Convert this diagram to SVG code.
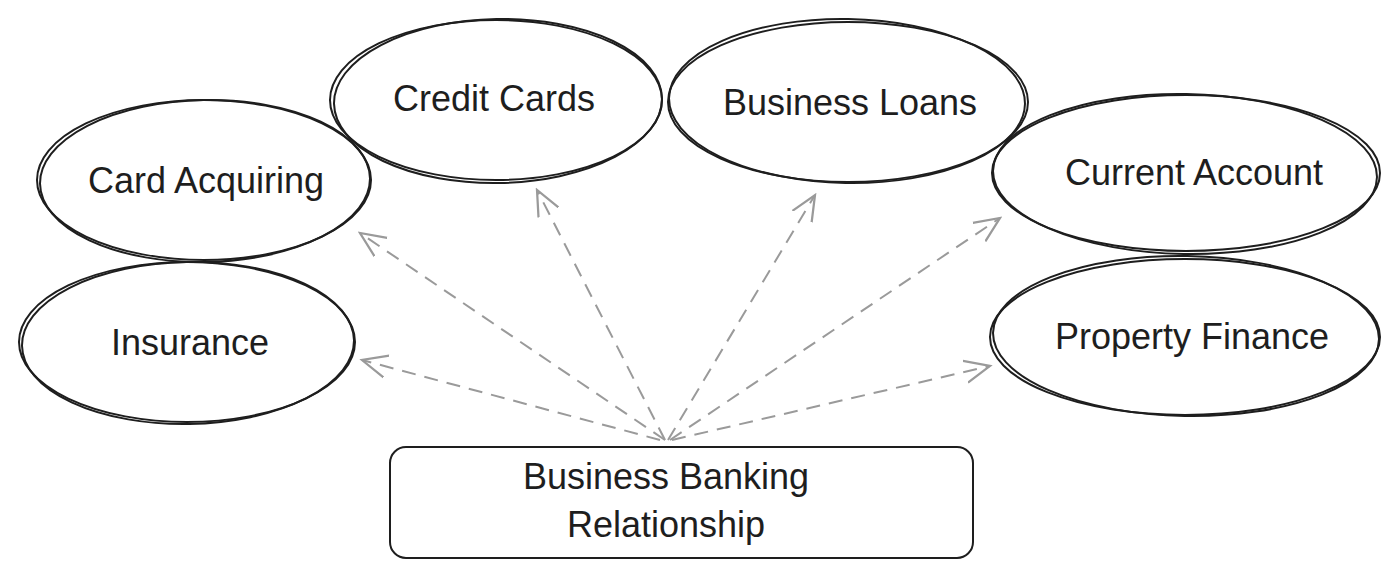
<svg xmlns="http://www.w3.org/2000/svg" width="1395" height="579" viewBox="0 0 1395 579">
<defs>
<style>
.n{fill:none;stroke:#1e1e1e;stroke-width:2}
.t{font-family:"Liberation Sans",sans-serif;font-size:36px;fill:#1e1e1e;text-anchor:middle;dominant-baseline:central}
.c{fill:none;stroke:#9a9a9a;stroke-width:2;stroke-dasharray:14 9}
</style>
<marker id="a" viewBox="0 0 20 20" refX="18" refY="10" markerWidth="28" markerHeight="28" markerUnits="userSpaceOnUse" orient="auto"><path d="M0,2 L18,10 L0,18" fill="none" stroke="#9a9a9a" stroke-width="1.6"/></marker>
</defs>
<rect width="1395" height="579" fill="#fff"/>
<g id="connectors">
<line class="c" x1="665" y1="440" x2="360" y2="233" marker-end="url(#a)"/>
<line class="c" x1="665" y1="440" x2="537" y2="190" marker-end="url(#a)"/>
<line class="c" x1="668" y1="440" x2="815" y2="195" marker-end="url(#a)"/>
<line class="c" x1="670" y1="440" x2="1000" y2="218" marker-end="url(#a)"/>
<line class="c" x1="660" y1="440" x2="362" y2="360" marker-end="url(#a)"/>
<line class="c" x1="672" y1="440" x2="990" y2="366" marker-end="url(#a)"/>
</g>
<g id="credit"><ellipse class="n" cx="496" cy="100" rx="166" ry="80"/><ellipse class="n" cx="498" cy="101" rx="164" ry="82" transform="rotate(-1 498 101)"/><text class="t" x="494" y="98">Credit Cards</text></g>
<g id="loans"><ellipse class="n" cx="848" cy="102" rx="180" ry="80"/><ellipse class="n" cx="847" cy="101" rx="178" ry="82" transform="rotate(1 847 101)"/><text class="t" x="850" y="102">Business Loans</text></g>
<g id="acquiring"><ellipse class="n" cx="204" cy="180" rx="167" ry="80"/><ellipse class="n" cx="205" cy="181" rx="165" ry="81" transform="rotate(-1 205 181)"/><text class="t" x="206" y="180">Card Acquiring</text></g>
<g id="current"><ellipse class="n" cx="1186" cy="173" rx="194" ry="78"/><ellipse class="n" cx="1185" cy="174" rx="192" ry="80" transform="rotate(1 1185 174)"/><text class="t" x="1194" y="172">Current Account</text></g>
<g id="insurance"><ellipse class="n" cx="187" cy="342" rx="168" ry="80"/><ellipse class="n" cx="188" cy="343" rx="166" ry="81" transform="rotate(-1 188 343)"/><text class="t" x="190" y="342">Insurance</text></g>
<g id="property"><ellipse class="n" cx="1185" cy="337" rx="195" ry="78"/><ellipse class="n" cx="1186" cy="336" rx="193" ry="80" transform="rotate(1 1186 336)"/><text class="t" x="1192" y="336">Property Finance</text></g>
<g id="banking"><rect class="n" x="390" y="447" width="583" height="111" rx="16"/><text class="t" x="666" y="476">Business Banking</text><text class="t" x="666" y="524">Relationship</text></g>
</svg>
